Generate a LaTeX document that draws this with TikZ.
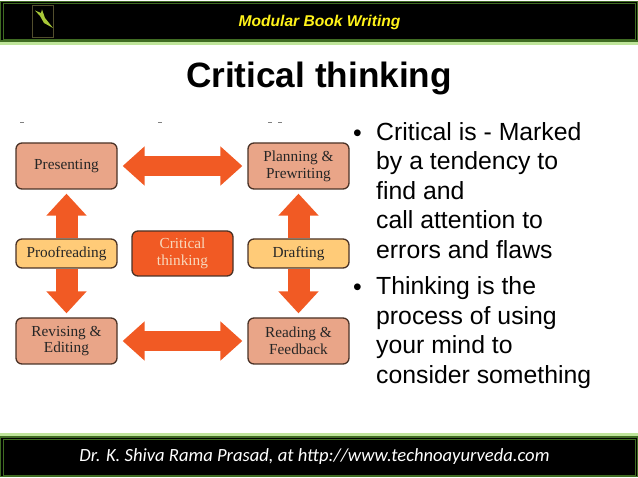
\documentclass[tikz,border=0pt]{standalone}
\usepackage{fontspec}
\setsansfont{Liberation Sans}
\newfontfamily\footfont{Carlito}
\newfontfamily\stagefont{Liberation Serif}
\usetikzlibrary{arrows.meta}
\definecolor{bandgreen}{HTML}{3F6B22}
\definecolor{glowgreen}{HTML}{BFE59A}
\definecolor{arroworange}{HTML}{F15A24}
\definecolor{peach}{HTML}{E9A588}
\definecolor{sand}{HTML}{FFCB78}
\definecolor{edgebrown}{HTML}{4A3226}
\definecolor{leafgreen}{HTML}{A8C838}
\definecolor{paleorange}{HTML}{F8D8BC}

\begin{document}
\begin{tikzpicture}[
			x=1pt, y=-1pt,
			band/.style={draw=bandgreen,fill=black,line width=1.2pt},
			bandinner/.style={draw=bandgreen,line width=0.7pt},
			glow/.style={fill=glowgreen,draw=none},
			stage/.style={rectangle,rounded corners=6pt,draw=edgebrown,line width=1.3pt,
			minimum width=101pt,minimum height=46pt,inner sep=0pt,align=center,
			font=\stagefont\fontsize{15.3}{16.8}\selectfont,text=black!85},
			peachbox/.style={stage,fill=peach},
			sandbox/.style={stage,fill=sand,minimum height=29pt},
			hublink/.style={draw=arroworange,line width=20pt,shorten <=5pt,shorten >=5pt,
			{Triangle[length=22pt,width=38pt]}-{Triangle[length=22pt,width=38pt]}},
			vlink/.style={draw=arroworange,line width=22pt,shorten >=4pt,
			-{Triangle[length=22pt,width=39pt]}},
			bullettext/.style={anchor=north west,inner sep=0pt,align=left,font=\sffamily\fontsize{24.8}{29.6}\selectfont},
			dot/.style={inner sep=0pt,font=\sffamily\fontsize{24.8}{29.6}\selectfont}
			]
			\useasboundingbox (0,0) rectangle (638,478);
			% header and footer
			\fill[glow] (0,38) rectangle (638,45);
			\fill[glow] (0,433) rectangle (638,440);
			\draw[band] (0.8,1.5) rectangle (637.2,41);
			\draw[bandinner] (3,3.5) rectangle (635,39);
			\draw[band] (0.8,437) rectangle (637.2,476.8);
			\draw[bandinner] (3,439) rectangle (635,475);
			\draw[draw=olive!45!black,line width=0.5pt] (32,5) rectangle (53,37);
			\fill[leafgreen] (35,10.5) -- (41,13) -- (42,9.5) -- (45,18) -- (53,28) -- (44,23) -- (40,16) -- cycle;
			\node[text=yellow!90!white,font=\sffamily\bfseries\itshape\fontsize{15.6}{18}\selectfont] (header) at (319.5,22) {Modular Book Writing};
			\node[text=white,font=\footfont\itshape\fontsize{18.6}{22}\selectfont] (footer) at (314.5,456.5) {Dr. K. Shiva Rama Prasad, at http://www.technoayurveda.com};
			\node[font=\sffamily\bfseries\fontsize{35.2}{40}\selectfont] (title) at (319,78) {Critical thinking};
			% cut off marks above the diagram
			\foreach \x in {22,160,270,280}
				\draw[gray,line width=0.8pt] (\x-2,122) -- (\x+2,122);

			% stages
			\node[peachbox] (presenting) at (66.5,166) {Presenting};
			\node[peachbox] (planning) at (298.5,166) {Planning \&\\Prewriting};
			\node[sandbox] (proofreading) at (66.5,253.5) {Proofreading};
			\node[sandbox] (drafting) at (298.5,253.5) {Drafting};
			\node[peachbox] (revising) at (66.5,341) {Revising \&\\Editing};
			\node[peachbox] (reading) at (298.5,341) {Reading \&\\Feedback};
			\node[stage,fill=arroworange,text=paleorange,minimum height=45pt] (critical) at (182.5,253.5) {Critical\\thinking};

			\foreach \a/\b in {presenting/planning, revising/reading}
				\draw[hublink] (\a) -- (\b);
			\foreach \a/\b in {proofreading/presenting, proofreading/revising, drafting/planning, drafting/reading}
				\draw[vlink] (\a) -- (\b);

			% bullets
			\node[dot] (dotone) at (357.5,135.5) {•};
			\node[bullettext] (criticaltext) at (376,122) {Critical is - Marked\\by a tendency to\\find and\\call attention to\\errors and flaws};
			\node[dot] (dottwo) at (357.5,290) {•};
			\node[bullettext] (thinkingtext) at (376,276.5) {Thinking is the\\process of using\\your mind to\\consider something};
		\end{tikzpicture}
\end{document}
